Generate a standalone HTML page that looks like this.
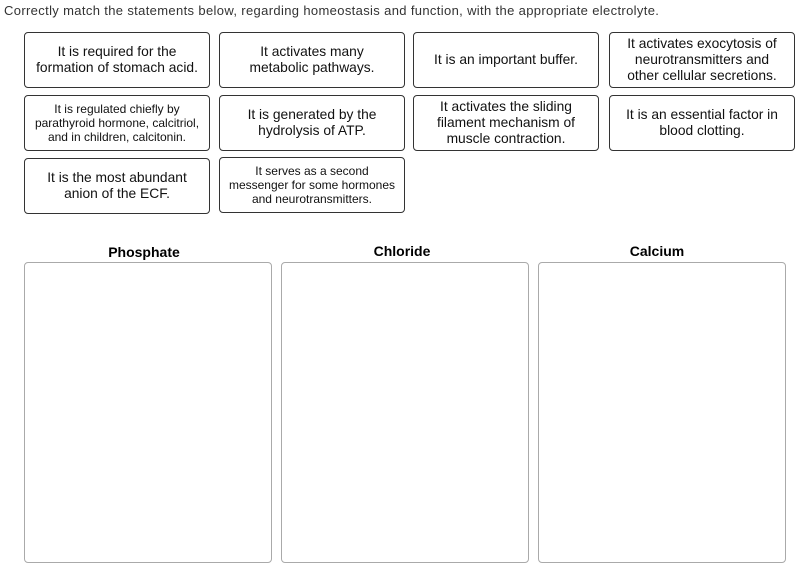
<!DOCTYPE html>
<html><head><style>
body{margin:0;width:801px;height:569px;background:#fff;font-family:"Liberation Sans",Arial,sans-serif;position:relative;overflow:hidden}
.t{position:absolute;left:4px;top:3px;font-size:13px;letter-spacing:0.35px;color:#333;white-space:nowrap}
.b{position:absolute;width:184px;height:54px;border:1px solid #333;border-radius:4px;display:flex;align-items:center;justify-content:center;text-align:center;color:#111;font-size:13.8px;line-height:16px;box-sizing:content-box}
.s{font-size:12px;line-height:14px}
.h{position:absolute;font-weight:bold;font-size:14px;text-align:center;width:248px}
.k{position:absolute;top:262px;width:246px;height:299px;border:1px solid #aaa;border-radius:4px}
</style></head><body>
<div class="t">Correctly match the statements below, regarding homeostasis and function, with the appropriate electrolyte.</div>
<div class="b" style="left:24px;top:32px">It is required for the<br>formation of stomach acid.</div>
<div class="b" style="left:219px;top:32px">It activates many<br>metabolic pathways.</div>
<div class="b" style="left:413px;top:32px">It is an important buffer.</div>
<div class="b" style="left:609px;top:32px">It activates exocytosis of<br>neurotransmitters and<br>other cellular secretions.</div>
<div class="b s" style="left:24px;top:95px">It is regulated chiefly by<br>parathyroid hormone, calcitriol,<br>and in children, calcitonin.</div>
<div class="b" style="left:219px;top:95px">It is generated by the<br>hydrolysis of ATP.</div>
<div class="b" style="left:413px;top:95px">It activates the sliding<br>filament mechanism of<br>muscle contraction.</div>
<div class="b" style="left:609px;top:95px">It is an essential factor in<br>blood clotting.</div>
<div class="b" style="left:24px;top:158px">It is the most abundant<br>anion of the ECF.</div>
<div class="b s" style="left:219px;top:157px">It serves as a second<br>messenger for some hormones<br>and neurotransmitters.</div>
<div class="h" style="left:20px;top:244px">Phosphate</div>
<div class="h" style="left:278px;top:243px">Chloride</div>
<div class="h" style="left:533px;top:243px">Calcium</div>
<div class="k" style="left:24px"></div>
<div class="k" style="left:281px"></div>
<div class="k" style="left:538px"></div>
</body></html>
